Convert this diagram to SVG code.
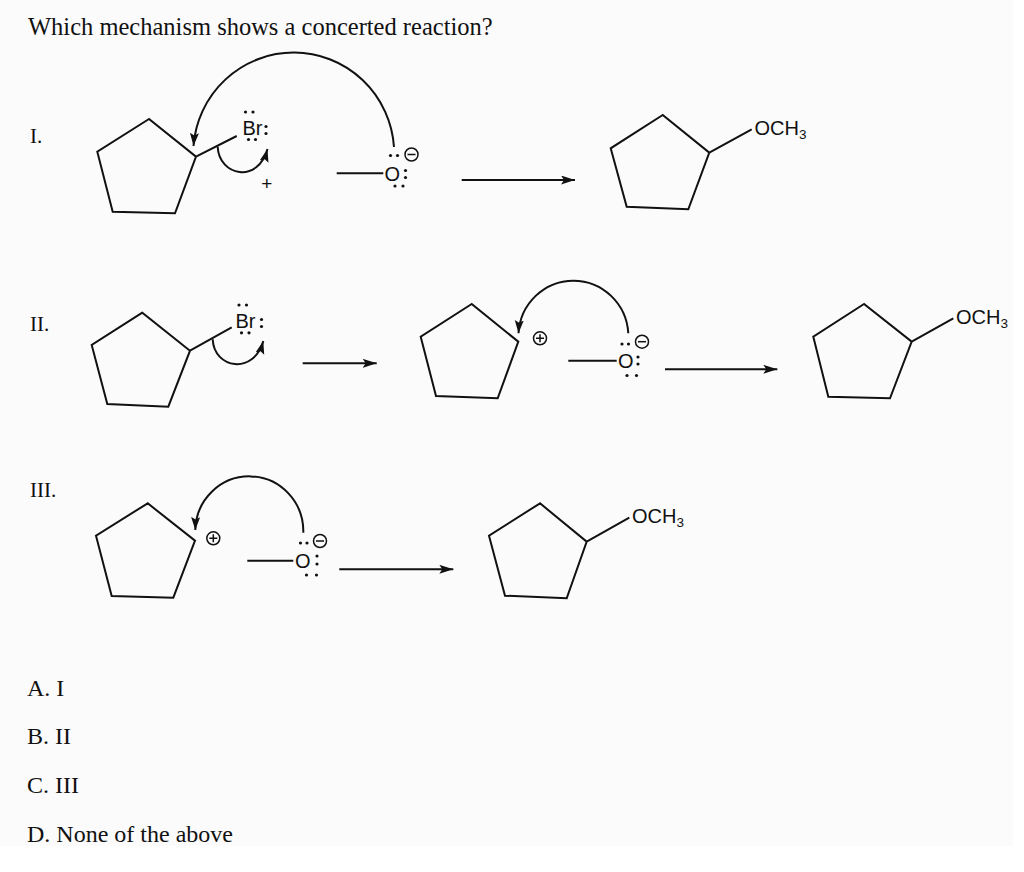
<svg xmlns="http://www.w3.org/2000/svg" width="1024" height="872" viewBox="0 0 1024 872">
<style>
.serif{font-family:"Liberation Serif","Times New Roman",serif;fill:#111}
.sans{font-family:"Liberation Sans",Arial,sans-serif;fill:#111}
.bond{fill:none;stroke:#111;stroke-width:2;stroke-linejoin:miter}
.arr{fill:none;stroke:#111;stroke-width:2}
.dot{fill:#111}
.chg{fill:none;stroke:#111;stroke-width:1.5}
</style>
<defs>
<marker id="head" markerUnits="userSpaceOnUse" markerWidth="16" markerHeight="10" refX="14" refY="4.5" orient="auto">
<path d="M0,0 L14,4.5 L0,9 L3,4.5 z" fill="#111"/>
</marker>
<marker id="chead" markerUnits="userSpaceOnUse" markerWidth="16" markerHeight="10" refX="13" refY="4.5" orient="auto">
<path d="M0,0 L13,4.5 L0,9 L2.5,4.5 z" fill="#111"/>
</marker>
</defs>
<rect x="0" y="0" width="1013" height="846" fill="#fbfbfb"/>
<text class="serif" x="28" y="35" font-size="24.5">Which mechanism shows a concerted reaction?</text>

<g id="label-I"><text class="serif" x="30" y="143" font-size="21">I.</text></g>
<g id="label-II"><text class="serif" x="30" y="331" font-size="21">II.</text></g>
<g id="label-III"><text class="serif" x="30" y="497" font-size="21">III.</text></g>

<!-- Row I -->
<g id="r1-bromide">
<path class="bond" d="M149,119 L97.3,151.7 L112.7,211.7 L175,213.3 L196,156.7 Z M196,156.7 L236.7,136"/>
<text class="sans" x="242.5" y="134.5" font-size="20">Br</text>
<circle class="dot" cx="245.5" cy="112" r="1.6"/><circle class="dot" cx="253" cy="112" r="1.6"/>
<circle class="dot" cx="248.5" cy="139.5" r="1.6"/><circle class="dot" cx="255.5" cy="139.5" r="1.6"/>
<circle class="dot" cx="266" cy="126.5" r="1.6"/><circle class="dot" cx="266" cy="133.5" r="1.6"/>
</g>
<g id="r1-plus"><text class="sans" x="266.7" y="190" font-size="19" text-anchor="middle">+</text></g>
<g id="r1-methoxide">
<path class="bond" d="M336.7,173.3 L383.3,173.3"/>
<text class="sans" x="384.5" y="180.5" font-size="20">O</text>
<circle class="dot" cx="390.5" cy="155.5" r="1.6"/><circle class="dot" cx="397.5" cy="155.5" r="1.6"/>
<circle class="dot" cx="405.5" cy="170.5" r="1.6"/><circle class="dot" cx="405.5" cy="177.5" r="1.6"/>
<circle class="dot" cx="395" cy="186" r="1.6"/><circle class="dot" cx="403" cy="186" r="1.6"/>
<circle class="chg" cx="411.5" cy="154.5" r="6.5"/><path class="chg" d="M407.5,154.5 L415.5,154.5"/>
</g>
<g id="r1-product">
<path class="bond" d="M662.7,115 L610.7,148.3 L626.7,206.7 L688.3,209.3 L709.3,152.7 Z M709.3,152.7 L751.7,129.3"/>
<text class="sans" x="754.5" y="134.5" font-size="20">OCH<tspan font-size="13.5" dy="4">3</tspan></text>
</g>

<!-- Row II -->
<g id="r2-bromide">
<path class="bond" d="M142.3,312.7 L91.7,345 L107.3,404 L168.3,406.7 L190,350.7 Z M190,350.7 L231.7,327.3"/>
<text class="sans" x="235.5" y="327.5" font-size="20">Br</text>
<circle class="dot" cx="239" cy="305" r="1.6"/><circle class="dot" cx="246.5" cy="305" r="1.6"/>
<circle class="dot" cx="241.5" cy="332.8" r="1.6"/><circle class="dot" cx="249" cy="332.8" r="1.6"/>
<circle class="dot" cx="261.5" cy="319.5" r="1.6"/><circle class="dot" cx="261.5" cy="326.5" r="1.6"/>
</g>
<g id="r2-cation">
<path class="bond" d="M471.7,304 L420.7,336.7 L436,396 L497.7,398.3 L518.3,341.7 Z"/>
<circle class="chg" cx="540" cy="338.3" r="6.5"/><path class="chg" d="M536,338.3 L544,338.3 M540,334.3 L540,342.3"/>
</g>
<g id="r2-methoxide">
<path class="bond" d="M568.3,360.7 L616.7,360.7"/>
<text class="sans" x="618" y="368" font-size="20">O</text>
<circle class="dot" cx="622" cy="344" r="1.6"/><circle class="dot" cx="628.5" cy="344" r="1.6"/>
<circle class="dot" cx="638" cy="357" r="1.6"/><circle class="dot" cx="638" cy="364" r="1.6"/>
<circle class="dot" cx="627" cy="375.5" r="1.6"/><circle class="dot" cx="636.5" cy="375.5" r="1.6"/>
<circle class="chg" cx="642" cy="341.7" r="6.5"/><path class="chg" d="M638,341.7 L646,341.7"/>
</g>
<g id="r2-product">
<path class="bond" d="M864,304 L813.3,336.7 L828.3,396.7 L890,398.3 L911.7,341.7 Z M911.7,341.7 L953.3,318.3"/>
<text class="sans" x="956" y="323.5" font-size="20">OCH<tspan font-size="13.5" dy="4">3</tspan></text>
</g>

<!-- Row III -->
<g id="r3-cation">
<path class="bond" d="M147.7,503.3 L96,535.7 L111.7,596 L173.3,597.7 L195,540.7 Z"/>
<circle class="chg" cx="213.3" cy="538.3" r="6.5"/><path class="chg" d="M209.3,538.3 L217.3,538.3 M213.3,534.3 L213.3,542.3"/>
</g>
<g id="r3-methoxide">
<path class="bond" d="M247.3,560.7 L293.3,560.7"/>
<text class="sans" x="295" y="568" font-size="20">O</text>
<circle class="dot" cx="300.5" cy="543" r="1.6"/><circle class="dot" cx="307" cy="543" r="1.6"/>
<circle class="dot" cx="317" cy="556" r="1.6"/><circle class="dot" cx="317" cy="564" r="1.6"/>
<circle class="dot" cx="306.5" cy="575" r="1.6"/><circle class="dot" cx="316.5" cy="575" r="1.6"/>
<circle class="chg" cx="320" cy="541" r="6.5"/><path class="chg" d="M316,541 L324,541"/>
</g>
<g id="r3-product">
<path class="bond" d="M540,503.3 L489,535.7 L505,595.7 L566.7,598.3 L586.7,541.7 Z M586.7,541.7 L629.3,517.7"/>
<text class="sans" x="632" y="523" font-size="20">OCH<tspan font-size="13.5" dy="4">3</tspan></text>
</g>

<!-- Connectors -->
<g id="connectors">
<path class="arr" d="M394,147 A100.5,101 0 0 0 193.5,146" marker-end="url(#chead)"/>
<path class="arr" d="M217.7,146.7 C219,176 258,184 267.5,149" marker-end="url(#chead)"/>
<path class="arr" d="M461.7,180 L575,180" marker-end="url(#head)"/>
<path class="arr" d="M212.7,339.3 C214,369 254,375 263.3,341" marker-end="url(#chead)"/>
<path class="arr" d="M302.7,363.3 L376.7,363.3" marker-end="url(#head)"/>
<path class="arr" d="M628.3,333.3 A55,56 0 0 0 518.5,333.3" marker-end="url(#chead)"/>
<path class="arr" d="M665,369.3 L777.3,369.3" marker-end="url(#head)"/>
<path class="arr" d="M303.3,532.7 A54,55 0 0 0 195.3,530" marker-end="url(#chead)"/>
<path class="arr" d="M339.3,569.3 L453.3,569.3" marker-end="url(#head)"/>
</g>

<g id="answers">
<text class="serif" x="27" y="696" font-size="24">A. I</text>
<text class="serif" x="27" y="744" font-size="24">B. II</text>
<text class="serif" x="27" y="792.5" font-size="24">C. III</text>
<text class="serif" x="27" y="841.5" font-size="24">D. None of the above</text>
</g>
</svg>
